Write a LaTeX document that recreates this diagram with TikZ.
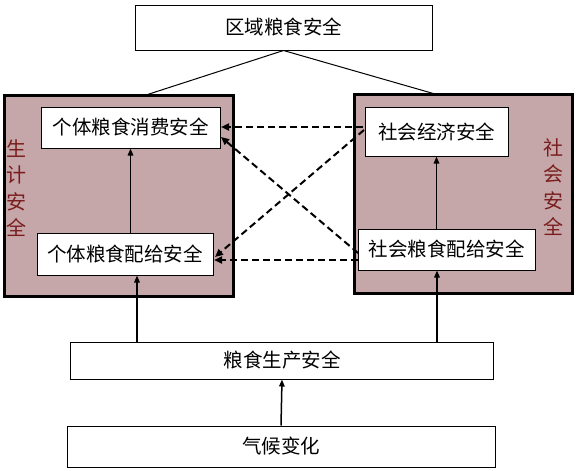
\documentclass[tikz,border=0pt]{standalone}
\usepackage{fontspec}
\setmainfont{Noto Sans CJK SC}
\usetikzlibrary{arrows.meta}
\definecolor{panelfill}{HTML}{C6A7A9}
\definecolor{sidetxt}{HTML}{7A1C1C}
\begin{document}
\begin{tikzpicture}[x=1pt,y=-1pt,
  font=\fontsize{19.5}{22}\selectfont,
  wbox/.style={draw=black, line width=1pt, fill=white, inner sep=0pt},
  panel/.style={draw=black, line width=3pt, fill=panelfill, inner sep=0pt},
  solidarr/.style={-{Triangle[length=7pt,width=5.5pt]}, line width=1.5pt},
  dasharr/.style={-{Triangle[length=8pt,width=7pt]}, line width=2pt, dash pattern=on 7pt off 4pt},
  side/.style={text=sidetxt, align=center, font=\fontsize{20}{26.5}\selectfont}]
\useasboundingbox (0,0) rectangle (576,471);
% panels
\node[panel, minimum width=229pt, minimum height=201pt] (lpanel) at (118.5,195.5) {};
\node[panel, minimum width=218pt, minimum height=199pt] (rpanel) at (463,193.5) {};
% boxes
\node[wbox, minimum width=297pt, minimum height=45pt] (top) at (283.5,27.5) {区域粮食安全};
\node[wbox, minimum width=179pt, minimum height=41pt] (consume) at (130.5,127.5) {个体粮食消费安全};
\node[wbox, minimum width=176pt, minimum height=42pt] (indist) at (125,254) {个体粮食配给安全};
\node[wbox, minimum width=143pt, minimum height=49pt] (econ) at (436.5,131.5) {社会经济安全};
\node[wbox, minimum width=177pt, minimum height=41pt] (socdist) at (446.5,249.5) {社会粮食配给安全};
\node[wbox, minimum width=423pt, minimum height=37pt] (prod) at (282,360.5) {粮食生产安全};
\node[wbox, minimum width=428pt, minimum height=41pt] (climate) at (281,446.5) {气候变化};
% side labels
\node[side] (lside) at (16,188) {生\\计\\安\\全};
\node[side] (rside) at (553,187) {社\\会\\安\\全};
% top connectors
\coordinate (lj) at (146,95);
\coordinate (rj) at (435,94);
\draw[line width=1pt] (top.south) -- (lj);
\draw[line width=1pt] (top.south) -- (rj);
% solid arrows
\draw[solidarr] (indist.north -| consume.south) -- (consume.south);
\draw[solidarr] (socdist.north -| econ.south) -- (econ.south);
\coordinate (pa) at (137,342);
\coordinate (pb) at (437,342);
\draw[solidarr] (pa) -- (pa |- indist.south);
\draw[solidarr] (pb) -- (pb |- socdist.south);
\draw[solidarr] (climate.north) -- (prod.south);
% dashed arrows
\coordinate (e1) at (363,127);
\coordinate (c1) at (221,127);
\coordinate (s1) at (358,260);
\coordinate (i1) at (214,260);
\coordinate (s2) at (358,253);
\coordinate (c2) at (221,137);
\coordinate (e2) at (364,130);
\coordinate (i2) at (215,257);
\draw[dasharr] (e1) -- (c1);
\draw[dasharr] (s1) -- (i1);
\draw[dasharr] (s2) -- (c2);
\draw[dasharr] (e2) -- (i2);
\end{tikzpicture}
\end{document}
